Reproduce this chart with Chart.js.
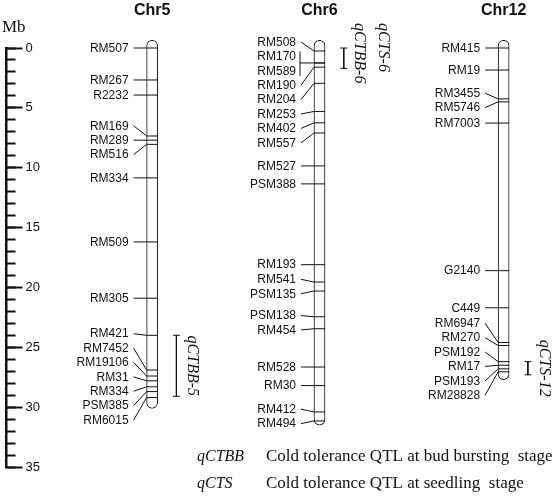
<!DOCTYPE html>
<html>
<head>
<meta charset="utf-8">
<script src="https://cdn.jsdelivr.net/npm/chart.js@4"></script>
<style>
  html, body { margin: 0; padding: 0; background: #fff; }
  #wrap { width: 557px; height: 500px; }
</style>
</head>
<body>
<div id="wrap"><canvas id="chrMap"></canvas></div>
<script>
// chromosomes (Mb)
const chromNames = ['Chr5', 'Chr6', 'Chr12'];
const chromLength = [30.1, 31.5, 27.7];

// markers, physical position in Mb
const chr5Markers = ['RM507', 'RM267', 'R2232', 'RM169', 'RM289', 'RM516', 'RM334', 'RM509', 'RM305', 'RM421', 'RM7452', 'RM19106', 'RM31', 'RM334', 'PSM385', 'RM6015'];
const chr5Pos = [0, 2.67, 3.93, 7.35, 7.7, 8.05, 10.85, 16.2, 20.9, 24.0, 26.9, 27.4, 27.8, 28.3, 28.7, 29.2];
const chr6Markers = ['RM508', 'RM170', 'RM589', 'RM190', 'RM204', 'RM253', 'RM402', 'RM557', 'RM527', 'PSM388', 'RM193', 'RM541', 'PSM135', 'PSM138', 'RM454', 'RM528', 'RM30', 'RM412', 'RM494'];
const chr6Pos = [0.25, 1.25, 1.25, 1.6, 2.95, 5.3, 6.25, 7.1, 9.85, 11.35, 18.1, 19.55, 20.3, 22.45, 23.45, 26.65, 28.2, 30.4, 31.15];
const chr12Markers = ['RM415', 'RM19', 'RM3455', 'RM5746', 'RM7003', 'G2140', 'C449', 'RM6947', 'RM270', 'PSM192', 'RM17', 'PSM193', 'RM28828'];
const chr12Pos = [0, 1.84, 4.25, 4.5, 6.27, 18.6, 21.7, 24.6, 24.85, 26.2, 26.5, 26.8, 27.05];

// QTL intervals
const qtlNames = ['qCTBB-5', 'qCTBB-6', 'qCTS-6', 'qCTS-12'];
const qtlChrom = [0, 1, 1, 2];
const qtlStart = [24.0, 0.0, 1.25, 26.2];
const qtlEnd = [29.1, 1.7, 1.25, 27.3];

const mbTicks = [0, 5, 10, 15, 20, 25, 30, 35];

const keyTerms = ['qCTBB', 'qCTS'];
const keyTexts = ['Cold tolerance QTL at bud bursting  stage', 'Cold tolerance QTL at seedling  stage'];

const markerNames = [chr5Markers, chr6Markers, chr12Markers];
const markerPos = [chr5Pos, chr6Pos, chr12Pos];

// layout
const chromSlot = [1, 2, 3.1];
const BAR_W = 11;
const CAP = 0.65;
const LABEL_GAP = 14.4;
const SANS = '"Liberation Sans", Arial, sans-serif';
const SERIF = '"Liberation Serif", "Times New Roman", serif';

// push overlapping labels apart, clusters centred on their markers
function spreadLabels(want, gap, minY) {
  let cl = want.map(p => ({sum: p, n: 1, top: p}));
  let merged = true;
  while (merged) {
    merged = false;
    cl.forEach(c => { c.top = Math.max(minY, c.sum / c.n - (c.n - 1) * gap / 2); });
    for (let i = 1; i < cl.length; i++) {
      const a = cl[i - 1], b = cl[i];
      if (a.top + a.n * gap > b.top + 0.01) {
        a.sum += b.sum; a.n += b.n;
        cl.splice(i, 1);
        merged = true;
        break;
      }
    }
  }
  const out = [];
  cl.forEach(c => { for (let k = 0; k < c.n; k++) out.push(c.top + k * gap); });
  return out;
}

const mapLabels = {
  id: 'mapLabels',
  afterDatasetsDraw(chart) {
    const {ctx, chartArea} = chart;
    const x = chart.scales.x, y = chart.scales.y;
    ctx.save();
    ctx.strokeStyle = '#111';
    ctx.fillStyle = '#111';
    ctx.lineWidth = 1;

    // marker names + leader lines
    ctx.font = '12px ' + SANS;
    ctx.textAlign = 'right';
    ctx.textBaseline = 'middle';
    const minY = y.getPixelForValue(-0.5);
    markerNames.forEach((names, c) => {
      const left = x.getPixelForValue(chromSlot[c]) - BAR_W / 2;
      const want = markerPos[c].map(p => y.getPixelForValue(p));
      const ly = spreadLabels(want, LABEL_GAP, minY);
      names.forEach((nm, i) => ctx.fillText(nm, left - 18, ly[i] + 0.5));
      let i = 0;
      while (i < names.length) {
        let j = i;
        while (j + 1 < names.length && markerPos[c][j + 1] === markerPos[c][i]) j++;
        ctx.beginPath();
        if (j > i) {
          ctx.moveTo(left - 14, ly[i] - 5);
          ctx.lineTo(left - 14, ly[j] + 5);
          ctx.moveTo(left - 14, want[i]);
          ctx.lineTo(left, want[i]);
        } else {
          ctx.moveTo(left - 13, ly[i]);
          ctx.lineTo(left, want[i]);
        }
        ctx.stroke();
        i = j + 1;
      }
    });

    // QTL names, rotated
    ctx.font = 'italic 16px ' + SERIF;
    qtlNames.forEach((q, k) => {
      const c = qtlChrom[k];
      const col = qtlChrom.slice(0, k).filter(v => v === c).length;
      const px = x.getPixelForValue(chromSlot[c] + 0.24 + col * 0.14);
      const w = ctx.measureText(q).width;
      const top = qtlStart[k] < 2 ? chartArea.top - 25
        : y.getPixelForValue((qtlStart[k] + qtlEnd[k]) / 2) - w / 2;
      ctx.save();
      ctx.translate(px, top);
      ctx.rotate(Math.PI / 2);
      ctx.textAlign = 'left';
      ctx.textBaseline = 'middle';
      ctx.fillText(q, 0, 0);
      ctx.restore();
    });
    ctx.restore();
  },
  afterDraw(chart) {
    const {ctx} = chart;
    ctx.save();
    ctx.fillStyle = '#111';
    ctx.textBaseline = 'middle';
    ctx.textAlign = 'left';
    ctx.font = '17px ' + SERIF;
    ctx.fillText('Mb', 2, 28);
    keyTerms.forEach((t, i) => {
      const ty = 457 + i * 27;
      ctx.font = 'italic 16px ' + SERIF;
      ctx.fillText(t, 197, ty);
      ctx.font = '17px ' + SERIF;
      ctx.fillText(keyTexts[i], 266, ty);
    });
    ctx.restore();
  }
};

const markerSets = markerNames.map((names, c) => ({
  type: 'line',
  order: 0,
  showLine: false,
  clip: false,
  data: markerPos[c].map(p => ({x: chromSlot[c], y: p})),
  pointStyle: 'line',
  pointRadius: BAR_W / 2,
  pointBorderColor: '#111',
  pointBorderWidth: 1
}));

const qtlSets = qtlNames.map((q, k) => ({
  type: 'line',
  order: 0,
  clip: false,
  data: [
    {x: chromSlot[qtlChrom[k]] + 0.145, y: qtlStart[k]},
    {x: chromSlot[qtlChrom[k]] + 0.145, y: qtlEnd[k]}
  ],
  borderColor: '#111',
  borderWidth: 1,
  pointStyle: 'line',
  pointRadius: qtlStart[k] === qtlEnd[k] ? 0 : 3.5,
  pointBorderColor: '#111',
  pointBorderWidth: 1
}));

new Chart(document.getElementById('chrMap'), {
  type: 'bar',
  data: {
    datasets: [
      ...markerSets,
      ...qtlSets,
      {
        order: 2,
        clip: false,
        data: chromNames.map((n, i) => ({x: chromSlot[i], y: [-CAP, chromLength[i]]})),
        backgroundColor: '#fff',
        borderColor: '#111',
        borderWidth: 1,
        borderSkipped: false,
        borderRadius: 6,
        barThickness: BAR_W
      }
    ]
  },
  options: {
    responsive: true,
    maintainAspectRatio: false,
    animation: false,
    events: [],
    layout: { padding: { left: 4, right: 0, top: 0, bottom: 33 } },
    plugins: { legend: { display: false }, tooltip: { enabled: false } },
    scales: {
      x: {
        type: 'linear',
        position: 'top',
        min: 0.13,
        max: 3.38,
        offset: false,
        grid: { display: false, drawTicks: false },
        border: { display: false },
        afterFit: s => { s.height = 48; },
        afterBuildTicks: s => { s.ticks = chromSlot.map(v => ({value: v})); },
        ticks: {
          autoSkip: false,
          maxRotation: 0,
          padding: 28,
          color: '#111',
          font: { family: SANS, size: 16, weight: 'bold' },
          callback: (v, i) => chromNames[i]
        }
      },
      y: {
        type: 'linear',
        position: 'left',
        reverse: true,
        min: 0,
        max: 35,
        afterFit: s => { s.width = 0; },
        afterBuildTicks: s => { s.ticks = mbTicks.map(v => ({value: v})); },
        border: { display: true, color: '#111', width: 2.5 },
        grid: { drawOnChartArea: false, drawTicks: true, tickLength: -16, tickWidth: 2, tickColor: '#111' },
        ticks: {
          mirror: true,
          autoSkip: false,
          padding: 19,
          color: '#111',
          font: { family: SANS, size: 13 },
          callback: v => v
        }
      },
      yMinor: {
        type: 'linear',
        position: 'left',
        reverse: true,
        min: 0,
        max: 35,
        afterFit: s => { s.width = 0; },
        afterBuildTicks: s => { s.ticks = Array.from({length: 36}, (_, v) => ({value: v})); },
        border: { display: false },
        grid: { drawOnChartArea: false, drawTicks: true, tickLength: -9, tickWidth: 2, tickColor: '#111' },
        ticks: { display: false }
      }
    }
  },
  plugins: [mapLabels]
});
</script>
</body>
</html>
